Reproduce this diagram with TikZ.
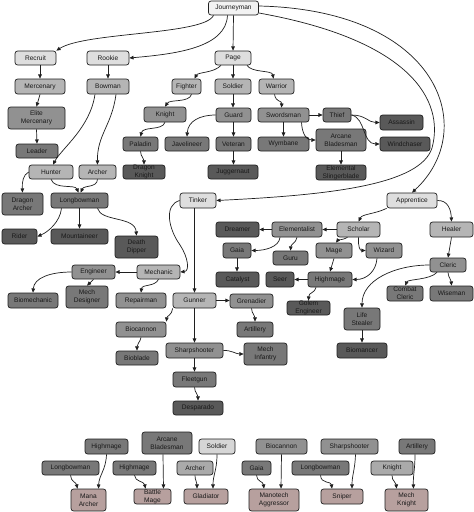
\documentclass[tikz,border=0pt]{standalone}
\usepackage{fontspec}
\newfontfamily\nodefont{Liberation Sans}
\usetikzlibrary{arrows.meta}
\definecolor{cA}{gray}{0.95}
\definecolor{cB}{gray}{0.87}
\definecolor{cC}{gray}{0.71}
\definecolor{cD}{gray}{0.57}
\definecolor{cE}{gray}{0.47}
\definecolor{cF}{gray}{0.35}
\definecolor{cH}{RGB}{183,160,158}
\definecolor{ln}{gray}{0.12}
\tikzset{
  nd/.style={draw=ln, line width=0.7pt, rounded corners=2.6pt, inner sep=0pt,
    align=center, text=black!90, font=\nodefont\fontsize{6.6}{7.6}\selectfont},
  lb/.style={inner sep=0pt, align=center, text=black!90, font=\nodefont\fontsize{6.6}{8}\selectfont},
  ar/.style={draw=ln, line width=0.7pt, -{Triangle[length=4.2pt,width=3.6pt]}},
}
\begin{document}
\begin{tikzpicture}[x=1pt,y=-1pt]
\useasboundingbox[fill=white] (0,0) rectangle (474,512);
% ---- nodes
\node[nd, fill=cA, minimum width=50pt, minimum height=14pt] (jour) at (233.5,8) {Journeyman};
\node[nd, fill=cB, minimum width=41pt, minimum height=14pt] (rec) at (35.5,58) {Recruit};
\node[nd, fill=cB, minimum width=42pt, minimum height=14pt] (rook) at (108,58) {Rookie};
\node[nd, fill=cB, minimum width=36pt, minimum height=14pt] (page) at (233,58) {Page};
\node[nd, fill=cC, minimum width=50pt, minimum height=15pt] (merc) at (40,86.5) {Mercenary};
\node[nd, fill=cC, minimum width=42pt, minimum height=15pt] (bow) at (108,86.5) {Bowman};
\node[nd, fill=cC, minimum width=29pt, minimum height=15pt] (fight) at (186.5,86.5) {Fighter};
\node[nd, fill=cC, minimum width=36pt, minimum height=15pt] (sold) at (233,86.5) {Soldier};
\node[nd, fill=cC, minimum width=35pt, minimum height=15pt] (warr) at (276.5,86.5) {Warrior};
\node[nd, fill=cD, minimum width=57pt, minimum height=22pt] (elite) at (36.5,118) {Elite\\Mercenary};
\node[nd, fill=cD, minimum width=42pt, minimum height=15pt] (knight) at (165,114.5) {Knight};
\node[nd, fill=cD, minimum width=35pt, minimum height=14pt] (guard) at (233.5,115) {Guard};
\node[nd, fill=cD, minimum width=51pt, minimum height=14pt] (swd) at (283.5,115) {Swordsman};
\node[nd, fill=cE, minimum width=28pt, minimum height=14pt] (thief) at (337,115) {Thief};
\node[nd, fill=cF, minimum width=43pt, minimum height=15pt] (assn) at (401.5,122.5) {Assassin};
\node[nd, fill=cF, minimum width=50pt, minimum height=14pt] (wind) at (405,144) {Windchaser};
\node[nd, fill=cE, minimum width=50pt, minimum height=22pt] (arc) at (341,140) {Arcane\\Bladesman};
\node[nd, fill=cF, minimum width=50pt, minimum height=15pt] (esb) at (341,172.5) {};
\node[lb] (esbt) at (esb) {Elemental\\Slingerblade};
\node[nd, fill=cE, minimum width=42pt, minimum height=14pt] (leader) at (37,151) {Leader};
\node[nd, fill=cE, minimum width=35pt, minimum height=14pt] (pal) at (140.5,144) {Paladin};
\node[nd, fill=cE, minimum width=44pt, minimum height=14pt] (jav) at (187,144) {Javelineer};
\node[nd, fill=cE, minimum width=35pt, minimum height=14pt] (vet) at (233.5,144) {Veteran};
\node[nd, fill=cE, minimum width=51pt, minimum height=14pt] (wym) at (283.5,144) {Wymbane};
\node[nd, fill=cF, minimum width=42pt, minimum height=14pt] (dk) at (144,172) {};
\node[lb] (dkt) at (dk) {Dragon\\Knight};
\node[nd, fill=cF, minimum width=50pt, minimum height=14pt] (jugg) at (233,172) {Juggernaut};
\node[nd, fill=cC, minimum width=44pt, minimum height=14pt] (hunt) at (51,172) {Hunter};
\node[nd, fill=cC, minimum width=37pt, minimum height=14pt] (arch) at (97.5,172) {Archer};
\node[nd, fill=cE, minimum width=41pt, minimum height=22pt] (darch) at (22.5,204) {Dragon\\Archer};
\node[nd, fill=cE, minimum width=57pt, minimum height=15pt] (long) at (79.5,200.5) {Longbowman};
\node[nd, fill=cB, minimum width=36pt, minimum height=15pt] (tink) at (198,200.5) {Tinker};
\node[nd, fill=cF, minimum width=35pt, minimum height=15pt] (rider) at (19.5,236.5) {Rider};
\node[nd, fill=cF, minimum width=57pt, minimum height=15pt] (mount) at (79.5,236.5) {Mountaineer};
\node[nd, fill=cF, minimum width=43pt, minimum height=22pt] (dd) at (136.5,247) {Death\\Dipper};
\node[nd, fill=cB, minimum width=50pt, minimum height=15pt] (appr) at (412,200.5) {Apprentice};
\node[nd, fill=cF, minimum width=43pt, minimum height=15pt] (dream) at (237.5,229.5) {Dreamer};
\node[nd, fill=cD, minimum width=50pt, minimum height=15pt] (elem) at (297,229.5) {Elementalist};
\node[nd, fill=cC, minimum width=43pt, minimum height=15pt] (sch) at (358.5,229.5) {Scholar};
\node[nd, fill=cC, minimum width=43pt, minimum height=15pt] (heal) at (451.5,229.5) {Healer};
\node[nd, fill=cE, minimum width=28pt, minimum height=15pt] (gaia) at (237,250.5) {Gaia};
\node[nd, fill=cE, minimum width=35pt, minimum height=14pt] (guru) at (290.5,258) {Guru};
\node[nd, fill=cD, minimum width=36pt, minimum height=15pt] (mage) at (334,250.5) {Mage};
\node[nd, fill=cD, minimum width=36pt, minimum height=15pt] (wiz) at (384,250.5) {Wizard};
\node[nd, fill=cD, minimum width=36pt, minimum height=14pt] (cler) at (448,265) {Cleric};
\node[nd, fill=cF, minimum width=43pt, minimum height=15pt] (cat) at (237.5,279.5) {Catalyst};
\node[nd, fill=cF, minimum width=28pt, minimum height=15pt] (seer) at (280,279.5) {Seer};
\node[nd, fill=cE, minimum width=44pt, minimum height=15pt] (hm) at (330,279.5) {Highmage};
\node[nd, fill=cE, minimum width=36pt, minimum height=15pt] (cc) at (405,293.5) {};
\node[lb] (cct) at (cc) {Combat\\Cleric};
\node[nd, fill=cE, minimum width=43pt, minimum height=15pt] (wise) at (451.5,293.5) {Wiseman};
\node[nd, fill=cF, minimum width=43pt, minimum height=14pt] (golem) at (308.5,308) {};
\node[lb] (golemt) at (golem) {Golem\\Engineer};
\node[nd, fill=cD, minimum width=43pt, minimum height=14pt] (eng) at (93.5,272) {Engineer};
\node[nd, fill=cC, minimum width=43pt, minimum height=14pt] (mech) at (158.5,272) {Mechanic};
\node[nd, fill=cE, minimum width=50pt, minimum height=15pt] (biom) at (33,300.5) {Biomechanic};
\node[nd, fill=cE, minimum width=42pt, minimum height=22pt] (md) at (87,297) {Mech\\Designer};
\node[nd, fill=cD, minimum width=50pt, minimum height=15pt] (rep) at (141,300.5) {Repairman};
\node[nd, fill=cC, minimum width=43pt, minimum height=15pt] (gun) at (194.5,300.5) {Gunner};
\node[nd, fill=cD, minimum width=43pt, minimum height=14pt] (gren) at (251.5,301) {Grenadier};
\node[nd, fill=cE, minimum width=36pt, minimum height=22pt] (ls) at (362,319) {Life\\Stealer};
\node[nd, fill=cD, minimum width=50pt, minimum height=15pt] (bioc) at (141,329.5) {Biocannon};
\node[nd, fill=cE, minimum width=36pt, minimum height=15pt] (art) at (255,329.5) {Artillery};
\node[nd, fill=cD, minimum width=57pt, minimum height=15pt] (sharp) at (194.5,350.5) {Sharpshooter};
\node[nd, fill=cE, minimum width=43pt, minimum height=22pt] (mi) at (265.5,354) {Mech\\Infantry};
\node[nd, fill=cF, minimum width=50pt, minimum height=15pt] (biomc) at (362,350.5) {Biomancer};
\node[nd, fill=cE, minimum width=42pt, minimum height=14pt] (bb) at (137,358) {Bioblade};
\node[nd, fill=cE, minimum width=43pt, minimum height=15pt] (fleet) at (194.5,379.5) {Fleetgun};
\node[nd, fill=cF, minimum width=50pt, minimum height=14pt] (desp) at (198,408) {Desparado};
% bottom hybrids
\node[nd, fill=cE, minimum width=43pt, minimum height=15pt] (hmb) at (106.5,446.5) {Highmage};
\node[nd, fill=cE, minimum width=57pt, minimum height=14pt] (longb) at (70.5,468) {Longbowman};
\node[nd, fill=cH, minimum width=35pt, minimum height=22pt] (ma) at (88.5,500) {Mana\\Archer};
\node[nd, fill=cE, minimum width=50pt, minimum height=22pt] (arcb) at (167,443) {Arcane\\Bladesman};
\node[nd, fill=cE, minimum width=43pt, minimum height=14pt] (hmb2) at (134.5,468) {Highmage};
\node[nd, fill=cH, minimum width=37pt, minimum height=15pt] (bm) at (152.5,496.5) {};
\node[lb] (bmt) at (bm) {Battle\\Mage};
\node[nd, fill=cB!80!cC, minimum width=36pt, minimum height=15pt] (soldb) at (217,446.5) {Soldier};
\node[nd, fill=cC!70!cD, minimum width=36pt, minimum height=14pt] (archb) at (195,468) {Archer};
\node[nd, fill=cH, minimum width=44pt, minimum height=15pt] (glad) at (206,496.5) {Gladiator};
\node[nd, fill=cE, minimum width=29pt, minimum height=14pt] (gaiab) at (256.5,468) {Gaia};
\node[nd, fill=cD, minimum width=51pt, minimum height=15pt] (biocb) at (281.5,446.5) {Biocannon};
\node[nd, fill=cH, minimum width=50pt, minimum height=22pt] (mt) at (274,500) {Manotech\\Aggressor};
\node[nd, fill=cE, minimum width=57pt, minimum height=14pt] (longb2) at (320.5,468) {Longbowman};
\node[nd, fill=cD, minimum width=57pt, minimum height=15pt] (sharpb) at (349.5,446.5) {Sharpshooter};
\node[nd, fill=cH, minimum width=42pt, minimum height=15pt] (sn) at (342,496.5) {Sniper};
\node[nd, fill=cC!70!cD, minimum width=42pt, minimum height=14pt] (knb) at (392,468) {Knight};
\node[nd, fill=cE, minimum width=36pt, minimum height=15pt] (artb) at (417,446.5) {Artillery};
\node[nd, fill=cH, minimum width=43pt, minimum height=22pt] (mk) at (406.5,500) {Mech\\Knight};
% ---- connectors
\draw[ar] ([xshift=-20pt]jour.south) .. controls (205,35) and (85,32) .. (rec.north east);
\draw[ar] ([xshift=-6pt]jour.south) .. controls (226,48) and (175,54) .. (rook.east);
\draw[ar] (jour.south) -- (page.north);
\draw[ar] ([yshift=2pt]jour.east) .. controls (440,10) and (480,130) .. (appr.north);
\draw[ar] ([yshift=-5pt]jour.east) .. controls (410,40) and (445,100) .. (432,148) .. controls (420,185) and (330,195) .. (tink.east);
\draw[ar] (rec.south -| merc.north) -- (merc.north);
\draw[ar] (merc.south) -- (elite.north);
\draw[ar] (elite.south) -- (leader.north);
\draw[ar] (rook.south) -- (bow.north);
\draw[ar] ([xshift=-13pt]bow.south) .. controls (90,128) and (62,148) .. ([xshift=2pt]hunt.north);
\draw[ar] ([xshift=8pt]bow.south) .. controls (112,125) and (97,135) .. (arch.north);
\draw[ar] (hunt.west) .. controls (23,175) and (22,182) .. (darch.north);
\draw[ar] (hunt.south) .. controls (55,190) and (75,184) .. ([xshift=-1pt]long.north);
\draw[ar] (arch.south) .. controls (97,188) and (84,185) .. ([xshift=1pt]long.north);
\draw[ar] ([xshift=-18pt]long.south) .. controls (60,222) and (48,232) .. (rider.east);
\draw[ar] (long.south) -- (mount.north);
\draw[ar] ([xshift=18pt]long.south) .. controls (101,222) and (135,216) .. (dd.north);
\draw[ar] ([xshift=-12pt]page.south) .. controls (214,73) and (198,72) .. ([xshift=8pt]fight.north);
\draw[ar] (page.south) -- (sold.north);
\draw[ar] ([xshift=14pt]page.south) .. controls (252,73) and (272,70) .. ([xshift=-3pt]warr.north);
\draw[ar] ([xshift=5pt]fight.south) .. controls (189,103) and (170,99) .. (knight.north);
\draw[ar] (sold.south) -- (sold.south |- guard.north);
\draw[ar] ([xshift=-2pt]warr.south) .. controls (276,103) and (282,100) .. ([xshift=-2pt]swd.north);
\draw[ar] (knight.south) .. controls (162,131) and (143,126) .. (pal.north);
\draw[ar] (guard.west) .. controls (200,115) and (188,121) .. (jav.north);
\draw[ar] (guard.south) -- (vet.north);
\draw[ar] (swd.south) -- (wym.north);
\draw[ar] (swd.east) -- (thief.west);
\draw[ar] ([xshift=18pt]swd.south) .. controls (302,133) and (306,140) .. (arc.west);
\draw[ar] (thief.east) .. controls (366,115) and (368,122.5) .. (assn.west);
\draw[ar] (thief.east) .. controls (366,118) and (362,144) .. (wind.west);
\draw[ar] (arc.south) -- (esb.north);
\draw[ar] (pal.south) .. controls (141,158) and (144,157) .. (dk.north);
\draw[ar] (vet.south) -- (vet.south |- jugg.north);
\draw[ar] (tink.west) .. controls (164,205) and (168,228) .. (180,245) .. controls (188,257) and (190,271) .. (mech.east);
\draw[ar] (tink.south -| gun.north) -- (gun.north);
\draw[ar] (appr.south west) .. controls (375,214) and (362,214) .. (sch.north);
\draw[ar] (appr.east) .. controls (448,200) and (451,210) .. (heal.north);
\draw[ar] (sch.west) -- (elem.east);
\draw[ar] ([xshift=-11pt]sch.south) .. controls (343,240) and (338,240) .. ([xshift=2pt]mage.north);
\draw[ar] (sch.south) .. controls (358,247) and (360,250.5) .. (wiz.west);
\draw[ar] (elem.west) -- (dream.east);
\draw[ar] ([xshift=-17pt]elem.south) .. controls (279,247) and (265,250.5) .. (gaia.east);
\draw[ar] (elem.south) .. controls (296,243) and (291,244) .. (guru.north);
\draw[ar] (gaia.south) -- (gaia.south |- cat.north);
\draw[ar] (mage.south) -- (hm.north);
\draw[ar] ([xshift=-7pt]wiz.south) .. controls (376,272) and (366,279.5) .. (hm.east);
\draw[ar] (hm.west) -- (seer.east);
\draw[ar] ([xshift=-14pt]hm.south) .. controls (314,294) and (309,292) .. (golem.north);
\draw[ar] (heal.south) -- (cler.north);
\draw[ar] (cler.west) .. controls (395,265) and (362,280) .. (ls.north);
\draw[ar] ([xshift=-11pt]cler.south) .. controls (430,280) and (408,279) .. (cc.north);
\draw[ar] (cler.south) .. controls (449,280) and (451,278) .. (wise.north);
\draw[ar] (ls.south) -- (biomc.north);
\draw[ar] (mech.west) -- (eng.east);
\draw[ar] (mech.south) .. controls (155,287) and (142,284) .. (rep.north);
\draw[ar] (eng.west) .. controls (50,272) and (34,278) .. (biom.north);
\draw[ar] (eng.south) -- (md.north);
\draw[ar] (gun.east) -- (gun.east -| gren.west);
\draw[ar] (gun.south west) .. controls (172,315) and (167,316) .. (bioc.north east);
\draw[ar] (gun.south) -- (sharp.north);
\draw[ar] (gren.south) .. controls (252,315) and (255,314) .. (art.north);
\draw[ar] (bioc.south) .. controls (140,343) and (137,343) .. (bb.north);
\draw[ar] (sharp.east) .. controls (231,350) and (236,354) .. (mi.west);
\draw[ar] (sharp.south) -- (fleet.north);
\draw[ar] (fleet.south) .. controls (195,394) and (198,393) .. (desp.north);
% bottom
\draw[ar] (longb.south) .. controls (71,482) and (76,482) .. ([xshift=-11pt]ma.north);
\draw[ar] (hmb.south) .. controls (106,470) and (99,475) .. ([xshift=10pt]ma.north);
\draw[ar] (hmb2.south) .. controls (135,482) and (144,481) .. ([xshift=-7pt]bm.north);
\draw[ar] ([xshift=-4pt]arcb.south) -- ([xshift=11pt]bm.north);
\draw[ar] (archb.south) .. controls (195,481) and (197,481) .. ([xshift=-9pt]glad.north);
\draw[ar] (soldb.south) .. controls (217,470) and (213,475) .. ([xshift=7pt]glad.north);
\draw[ar] (gaiab.south) .. controls (257,482) and (263,481) .. ([xshift=-10pt]mt.north);
\draw[ar] (biocb.south) -- ([xshift=7pt]mt.north);
\draw[ar] (longb2.south) .. controls (321,484) and (331,481) .. ([xshift=-10pt]sn.north);
\draw[ar] ([xshift=6pt]sharpb.south) .. controls (355,470) and (352,475) .. ([xshift=10pt]sn.north);
\draw[ar] (knb.south) .. controls (392,482) and (396,481) .. ([xshift=-10pt]mk.north);
\draw[ar] ([xshift=-2pt]artb.south) .. controls (415,470) and (413,475) .. ([xshift=7pt]mk.north);
\end{tikzpicture}
\end{document}
